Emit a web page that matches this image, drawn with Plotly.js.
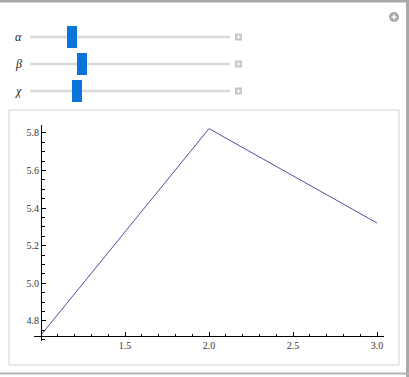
<!DOCTYPE html>
<html>
<head>
<meta charset="utf-8">
<script src="https://cdn.plot.ly/plotly-3.0.1.min.js"></script>
<style>html,body{margin:0;padding:0;background:#fff;}#chart{width:409px;height:377px;}</style>
</head>
<body>
<div id="chart"></div>
<script>
// Data
var xValues = [1, 2, 3];
var yValues = [4.725, 5.823, 5.321];
var xTickVals = [1.5, 2.0, 2.5, 3.0];
var xTickText = ['1.5', '2.0', '2.5', '3.0'];
var yTickVals = [4.8, 5.0, 5.2, 5.4, 5.6, 5.8];
var yTickText = ['4.8', '5.0', '5.2', '5.4', '5.6', '5.8'];
var sliderLabels = ['\u03B1', '\u03B2', '\u03C7'];

var W = 409, H = 377;
function px(x){ return x / W; }
function py(y){ return 1 - y / H; }

var SERIF = '"Liberation Serif", "Times New Roman", "DejaVu Serif", serif';

var shapes = [];
var annotations = [];
function rect(x0, y0, x1, y1, fill, line, lw){
  shapes.push({type:'rect', xref:'paper', yref:'paper', x0:px(x0), x1:px(x1), y0:py(y1), y1:py(y0),
    fillcolor:fill, line:{color:line||fill, width:lw===undefined?0:lw}, layer:'below'});
}
// outer frame
rect(0, 0, 409, 2.5, '#a9a9a9');
rect(406, 0, 409, 377, '#a9a9a9');
rect(0, 372.5, 409, 374.5, '#b5b5b5');
// plot panel
rect(9, 110, 399, 365, '#ffffff', '#d4d4d4', 1);

// sliders
var trackY = [37, 64, 91];
var thumbX = [67, 77, 72];
for (var i = 0; i < 3; i++){
  var y = trackY[i];
  rect(30, y - 1.2, 230, y + 1.2, '#dadada');
  rect(235, y - 3.5, 242, y + 3.5, '#c6c6c6');
  shapes.push({type:'line', xref:'paper', yref:'paper', x0:px(236.5), x1:px(240.5), y0:py(y), y1:py(y), line:{color:'#ffffff', width:1}});
  shapes.push({type:'line', xref:'paper', yref:'paper', x0:px(238.5), x1:px(238.5), y0:py(y-2), y1:py(y+2), line:{color:'#ffffff', width:1}});
  rect(thumbX[i], y - 11, thumbX[i] + 10, y + 11, '#0a74d8');
  annotations.push({xref:'paper', yref:'paper', x:px(18), y:py(y), text:'<i>' + sliderLabels[i] + '</i>', showarrow:false,
    xanchor:'center', yanchor:'middle', font:{family:SERIF, size:12, color:'#222'}});
}
// top-right circle icon
shapes.push({type:'circle', xref:'paper', yref:'paper', x0:px(389), x1:px(399), y0:py(22), y1:py(12), fillcolor:'#a8a8a8', line:{width:0}});
shapes.push({type:'line', xref:'paper', yref:'paper', x0:px(391.5), x1:px(396.5), y0:py(17), y1:py(17), line:{color:'#fff', width:1.5}});
shapes.push({type:'line', xref:'paper', yref:'paper', x0:px(394), x1:px(394), y0:py(14.5), y1:py(19.5), line:{color:'#fff', width:1.5}});

var tickFont = {family:SERIF, size:10, color:'#333'};

var trace = {x:xValues, y:yValues, type:'scatter', mode:'lines', line:{color:'#4f4f9f', width:1}, hoverinfo:'skip'};

var layout = {
  width:W, height:H, margin:{l:0, r:0, t:0, b:0},
  font:{family:SERIF},
  paper_bgcolor:'#ffffff', plot_bgcolor:'rgba(0,0,0,0)', showlegend:false,
  xaxis:{domain:[px(34), px(384)], range:[1 - 7/168, 1 + 343/168], anchor:'free', position:py(336),
    showline:true, linecolor:'#000', linewidth:1, showgrid:false, zeroline:false,
    tickmode:'array', tickvals:xTickVals, ticktext:xTickText, ticks:'inside', ticklen:4, tickwidth:1, tickcolor:'#000',
    tickfont:tickFont,
    minor:{tick0:1, dtick:0.1, ticks:'inside', ticklen:2.5, tickwidth:1, tickcolor:'#000', showgrid:false}},
  yaxis:{domain:[py(341), py(125)], range:[4.72 - 5/188, 4.72 + 211/188], anchor:'free', position:px(41),
    showline:true, linecolor:'#000', linewidth:1, showgrid:false, zeroline:false,
    tickmode:'array', tickvals:yTickVals, ticktext:yTickText, ticks:'inside', ticklen:4, tickwidth:1, tickcolor:'#000',
    tickfont:tickFont,
    minor:{tick0:4.8, dtick:0.05, ticks:'inside', ticklen:2.5, tickwidth:1, tickcolor:'#000', showgrid:false}},
  shapes:shapes, annotations:annotations
};
Plotly.newPlot('chart', [trace], layout, {staticPlot:true, displayModeBar:false});
</script>
</body>
</html>
